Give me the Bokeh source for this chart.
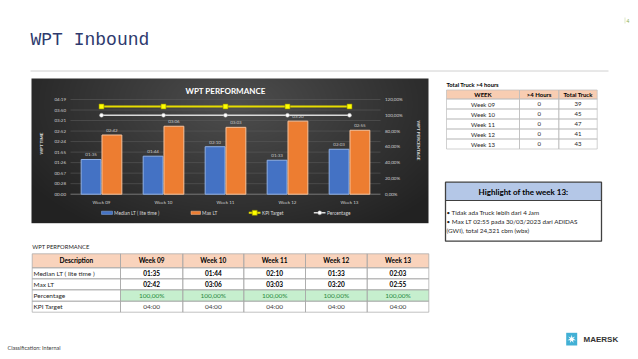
import numpy as np
from bokeh.plotting import figure
from bokeh.models import Range1d
from bokeh.core.properties import value
from bokeh.embed import file_html
from bokeh.resources import INLINE

# ---------------- data ----------------
weeks = ["Week 09", "Week 10", "Week 11", "Week 12", "Week 13"]
median_lt = ["01:35", "01:44", "02:10", "01:33", "02:03"]
max_lt = ["02:42", "03:06", "03:03", "03:20", "02:55"]
kpi_target = ["04:00", "04:00", "04:00", "04:00", "04:00"]
percentage = [100.0, 100.0, 100.0, 100.0, 100.0]
time_ticks = ["00:00", "00:28", "00:57", "01:26", "01:55", "02:24", "02:52", "03:21", "03:50", "04:19"]
pct_ticks = ["0,00%", "20,00%", "40,00%", "60,00%", "80,00%", "100,00%", "120,00%"]
truck_over4 = [0, 0, 0, 0, 0]
truck_total = [39, 45, 47, 41, 43]
legend_labels = ["Median LT ( lite time )", "Max LT", "KPI Target", "Percentage"]
highlight_title = "Highlight of the week 13:"
highlight_lines = ["\u2022 Tidak ada Truck lebih dari 4 Jam",
                   "\u2022   Max LT 02:55 pada 30/03/2023 dari ADIDAS",
                   "(GWI),  total 24,321 cbm (wbx)"]
table_rows = ["Median LT ( lite time )", "Max LT", "Percentage", "KPI Target"]


def to_min(s):
    h, m = s.split(":")
    return int(h) * 60 + int(m)


med_min = [to_min(s) for s in median_lt]
max_min = [to_min(s) for s in max_lt]
kpi_min = [to_min(s) for s in kpi_target]
pct_txt = [("%.2f" % v).replace(".", ",") + "%" for v in percentage]
TIME_STEP = 28.8   # Excel major unit 0.02 day
PCT_STEP = 20.0
time_vals = [i * TIME_STEP for i in range(len(time_ticks))]
pct_vals = [i * PCT_STEP for i in range(len(pct_ticks))]
idx = np.arange(len(weeks), dtype=float)

# ---------------- canvas ----------------
W, H = 630, 351


def X(sx):
    return sx


def Y(sy):
    return H - sy


p = figure(width=W, height=H, x_range=Range1d(0, W), y_range=Range1d(0, H),
           output_backend="svg", toolbar_location=None, min_border=0,
           x_axis_type=None, y_axis_type=None, outline_line_color=None,
           background_fill_color="white", border_fill_color="white")
p.grid.visible = False


def data_range(d0, d1, p0, p1, total):
    s = (d1 - d0) / (p1 - p0)
    return Range1d(start=d0 - p0 * s, end=d0 + (total - p0) * s)


# chart plot-area in slide px: x 70..380, y 99..193.7
p.extra_x_ranges = {"cat": data_range(-0.5, len(weeks) - 0.5, X(70), X(380), W)}
p.extra_y_ranges = {"time": data_range(0, time_vals[-1], Y(193.7), Y(99), H),
                    "pct": data_range(0, pct_vals[-1], Y(193.7), Y(99), H)}


def T(x, y, texts, size, color="#000000", bold=False, align="left", baseline="middle",
      font="Lato", angle=0.0, **kw):
    if not isinstance(texts, (list, tuple)):
        texts = [texts]
    n = len(texts)
    xs = list(x) if isinstance(x, (list, tuple, np.ndarray)) else [x] * n
    ys = list(y) if isinstance(y, (list, tuple, np.ndarray)) else [y] * n
    p.text(x=xs, y=ys, text=list(texts), text_font=value(font), text_font_size=size,
           text_color=color, text_font_style="bold" if bold else "normal",
           text_align=align, text_baseline=baseline, angle=angle, **kw)


# ---------------- slide header ----------------
T(X(30), Y(39.5), "WPT Inbound", "18px", color="#2e3a6e", font="Liberation Mono",
  baseline="alphabetic")
p.segment(x0=[X(30)], y0=[Y(70.5)], x1=[X(608)], y1=[Y(70.5)], line_color="#d0d0d0", line_width=1)
p.segment(x0=[X(624.5)], y0=[Y(17)], x1=[X(624.5)], y1=[Y(23)], line_color="#c8d8a8", line_width=0.6)
T(X(626), Y(20), "4", "5px", color="#8db050")

# ---------------- chart background ----------------
cx0, cx1, cy0, cy1 = 31, 428, 78, 222.7
gw, gh = int(cx1 - cx0), int(round(cy1 - cy0))
C, R = np.meshgrid(np.arange(gw), np.arange(gh))
d = np.sqrt(((C - 205) / 250.0) ** 2 + ((R - (cy1 - 105)) / 150.0) ** 2)
d = np.clip(d, 0, 1)
v = (78 - 44 * d).astype(np.uint8)
img = np.empty((gh, gw), dtype=np.uint32)
view = img.view(dtype=np.uint8).reshape((gh, gw, 4))
view[:, :, 0] = v
view[:, :, 1] = v
view[:, :, 2] = v
view[:, :, 3] = 255
p.image_rgba(image=[img], x=X(cx0), y=Y(cy1), dw=cx1 - cx0, dh=cy1 - cy0)

# title
T(X(225), Y(90), "WPT PERFORMANCE", "8px", color="#ffffff", bold=True, align="center")

# gridlines
p.segment(x0=X(70), x1=X(380), y0=time_vals[1:], y1=time_vals[1:], y_range_name="time",
          line_color="#5a5a5a", line_width=0.6)
p.segment(x0=[X(70)], x1=[X(380)], y0=[0], y1=[0], y_range_name="time",
          line_color="#8a8a8a", line_width=0.8)

# tick labels
T(X(65.5), time_vals, time_ticks, "4.5px", color="#d0d0d0", align="right", y_range_name="time")
T(X(384.5), pct_vals, pct_ticks, "4.5px", color="#d0d0d0", align="left", y_range_name="pct")
T(idx, Y(201.7), weeks, "4.5px", color="#d0d0d0", align="center", x_range_name="cat")

# axis titles
T(X(40.7), Y(143), "WPT TIME", "4.5px", color="#d9d9d9", bold=True, align="center",
  angle=np.pi / 2)
T(X(418.3), Y(140), "WPT PERCENTAGE", "4.5px", color="#d9d9d9", bold=True, align="center",
  angle=-np.pi / 2)

# bars
OFF, BW = 0.168, 0.32
p.vbar(x=idx - OFF, top=med_min, bottom=0, width=BW, x_range_name="cat", y_range_name="time",
       fill_color="#4472c4", line_color="#8fb0e6", line_width=1)
p.vbar(x=idx + OFF, top=max_min, bottom=0, width=BW, x_range_name="cat", y_range_name="time",
       fill_color="#ed7d31", line_color="#f7c29c", line_width=1)

# data labels
T(idx - OFF, med_min, median_lt, "4.5px", color="#c8c8c8", align="center", baseline="bottom",
  x_range_name="cat", y_range_name="time", y_offset=-2)
T(idx + OFF, max_min, max_lt, "4.5px", color="#c8c8c8", align="center", baseline="bottom",
  x_range_name="cat", y_range_name="time", y_offset=-2)

# KPI target line
p.line(x=idx, y=kpi_min, x_range_name="cat", y_range_name="time", line_color="#e6dc00", line_width=2)
p.scatter(x=idx, y=kpi_min, x_range_name="cat", y_range_name="time", marker="square", size=5,
          fill_color="#ffff00", line_color="#8a8400", line_width=0.6)
# percentage line
p.line(x=idx, y=percentage, x_range_name="cat", y_range_name="pct", line_color="#d9d9d9", line_width=1.5)
p.scatter(x=idx, y=percentage, x_range_name="cat", y_range_name="pct", marker="circle", size=4,
          fill_color="#ffffff", line_color="#a0a0a0", line_width=0.5)

# legend
ly = 212.3
p.quad(left=[X(101)], right=[X(112)], bottom=[Y(ly + 1.6)], top=[Y(ly - 1.6)],
       fill_color="#4472c4", line_color="#8fb0e6", line_width=0.5)
T(X(113.5), Y(ly), legend_labels[0], "4.8px", color="#d9d9d9")
p.quad(left=[X(190.5)], right=[X(200)], bottom=[Y(ly + 1.6)], top=[Y(ly - 1.6)],
       fill_color="#ed7d31", line_color="#f7c29c", line_width=0.5)
T(X(201.5), Y(ly), legend_labels[1], "4.8px", color="#d9d9d9")
p.segment(x0=[X(248.3)], x1=[X(260)], y0=[Y(ly)], y1=[Y(ly)], line_color="#e6dc00", line_width=2)
p.scatter(x=[X(254.2)], y=[Y(ly)], marker="square", size=5, fill_color="#ffff00",
          line_color="#8a8400", line_width=0.6)
T(X(261.5), Y(ly), legend_labels[2], "4.8px", color="#d9d9d9")
p.segment(x0=[X(313.3)], x1=[X(325)], y0=[Y(ly)], y1=[Y(ly)], line_color="#d9d9d9", line_width=1.5)
p.scatter(x=[X(319.2)], y=[Y(ly)], marker="circle", size=4, fill_color="#ffffff",
          line_color="#a0a0a0", line_width=0.5)
T(X(326.5), Y(ly), legend_labels[3], "4.8px", color="#d9d9d9")

# ---------------- truck table ----------------
T(X(446), Y(84.3), "Total Truck >4 hours", "5.8px", color="#000000", bold=True)
tcols = [446, 519, 558.3, 596.7]
trows = [89.5] + [98.5 + 10 * i for i in range(len(weeks) + 1)]
p.quad(left=[X(tcols[0])], right=[X(tcols[-1])], top=[Y(trows[0])], bottom=[Y(trows[1])],
       fill_color="#f8cdb2", line_color=None)
ql, qr, qt, qb = [], [], [], []
for r in range(len(trows) - 1):
    for c in range(len(tcols) - 1):
        ql.append(X(tcols[c])); qr.append(X(tcols[c + 1]))
        qt.append(Y(trows[r])); qb.append(Y(trows[r + 1]))
p.quad(left=ql, right=qr, top=qt, bottom=qb, fill_color=None, line_color="#bdbdbd", line_width=0.7)
tcx = [(tcols[c] + tcols[c + 1]) / 2 for c in range(3)]
hy = (trows[0] + trows[1]) / 2
T([X(c) for c in tcx], Y(hy), ["WEEK", ">4 Hours", "Total Truck"], "6px", bold=True, align="center")
rys = [Y((trows[i + 1] + trows[i + 2]) / 2) for i in range(len(weeks))]
T(X(tcx[0]), rys, weeks, "6px", color="#262626", align="center")
T(X(tcx[1]), rys, [str(v) for v in truck_over4], "6px", color="#262626", align="center")
T(X(tcx[2]), rys, [str(v) for v in truck_total], "6px", color="#262626", align="center")

# ---------------- highlight box ----------------
bx0, bx1, by0, by1, bh = 445, 601, 181.7, 240.7, 200
p.quad(left=[X(bx0)], right=[X(bx1)], top=[Y(by0)], bottom=[Y(bh)], fill_color="#b4c7e7", line_color=None)
p.segment(x0=[X(bx0)], x1=[X(bx1)], y0=[Y(bh)], y1=[Y(bh)], line_color="#404040", line_width=1)
p.quad(left=[X(bx0)], right=[X(bx1)], top=[Y(by0)], bottom=[Y(by1)], fill_color=None,
       line_color="#404040", line_width=1.3)
T(X((bx0 + bx1) / 2), Y(191.5), highlight_title, "8px", color="#000000", bold=True, align="center")
T(X(446), [Y(211.7), Y(221), Y(230.3)], highlight_lines, "6.3px", color="#262626")

# ---------------- WPT performance table ----------------
T(X(31.7), Y(246), "WPT PERFORMANCE", "5.8px", color="#262626")
ccols = [31.7, 120, 182.3, 243.3, 305, 366.7, 428.3]
crows = [253.3, 267.3, 278.3, 289.3, 300.7, 311.7]
p.quad(left=[X(ccols[0])], right=[X(ccols[-1])], top=[Y(crows[0])], bottom=[Y(crows[1])],
       fill_color="#f9d3bc", line_color=None)
p.quad(left=[X(ccols[1])], right=[X(ccols[-1])], top=[Y(crows[3])], bottom=[Y(crows[4])],
       fill_color="#c6efce", line_color=None)
ql, qr, qt, qb = [], [], [], []
for r in range(len(crows) - 1):
    for c in range(len(ccols) - 1):
        ql.append(X(ccols[c])); qr.append(X(ccols[c + 1]))
        qt.append(Y(crows[r])); qb.append(Y(crows[r + 1]))
p.quad(left=ql, right=qr, top=qt, bottom=qb, fill_color=None, line_color="#a6a6a6", line_width=0.7)
ccx = [X((ccols[c] + ccols[c + 1]) / 2) for c in range(len(ccols) - 1)]
T(ccx, Y((crows[0] + crows[1]) / 2), ["Description"] + weeks, "6.5px", bold=True, align="center")
rmid = [Y((crows[i] + crows[i + 1]) / 2) for i in range(1, len(crows) - 1)]
T(X(33), rmid, table_rows, "6.5px", color="#262626")
T(ccx[1:], rmid[0], median_lt, "6.5px", color="#000000", bold=True, align="center")
T(ccx[1:], rmid[1], max_lt, "6.5px", color="#000000", bold=True, align="center")
T(ccx[1:], rmid[2], pct_txt, "6.5px", color="#2a8a3e", align="center")
T(ccx[1:], rmid[3], kpi_target, "6.5px", color="#404040", align="center")

# ---------------- footer ----------------
lx0, lx1, ly0, ly1 = 565.7, 576.7, 332.3, 345
p.quad(left=[X(lx0)], right=[X(lx1)], top=[Y(ly0)], bottom=[Y(ly1)], fill_color="#42b0d5", line_color=None)
scx, scy = X((lx0 + lx1) / 2), Y((ly0 + ly1) / 2)
ang = np.pi / 2 + np.arange(14) * np.pi / 7
rad = np.where(np.arange(14) % 2 == 0, 4.4, 1.6)
p.patch(x=scx + rad * np.cos(ang), y=scy + rad * np.sin(ang), fill_color="white", line_color=None)
T(X(583), scy, "MAERSK", "8px", color="#333333", bold=True, font="Liberation Sans")
T(X(7), Y(347.5), "Classification: Internal", "5.5px", color="#404040")

open("out.html", "w").write(file_html(p, INLINE))
